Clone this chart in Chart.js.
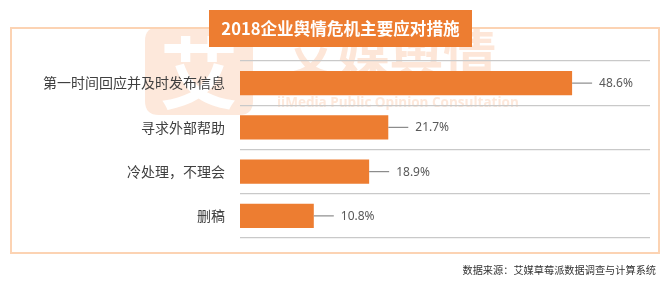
<!DOCTYPE html>
<html>
<head>
<meta charset="utf-8">
<script src="https://cdn.jsdelivr.net/npm/chart.js@4.4.1/dist/chart.umd.min.js"></script>
<style>
html,body{margin:0;padding:0;background:#fff;}
#wrap{position:relative;width:663px;height:282px;}
canvas{display:block;}
</style>
</head>
<body>
<div id="wrap"><canvas id="c" width="663" height="282"></canvas></div>
<script>
const titleText = "2018企业舆情危机主要应对措施";
const sourceText = "数据来源：艾媒草莓派数据调查与计算系统";
const categories = ["第一时间回应并及时发布信息", "寻求外部帮助", "冷处理，不理会", "删稿"];
const values = [48.6, 21.7, 18.9, 10.8];
const valueLabels = ["48.6%", "21.7%", "18.9%", "10.8%"];

const CJK = '"Noto Sans CJK SC", "Noto Sans", sans-serif';

const decor = {
  id: 'decor',
  beforeDraw(chart) {
    const ctx = chart.ctx;
    ctx.save();
    ctx.fillStyle = '#fff';
    ctx.fillRect(0, 0, chart.width, chart.height);
    // watermark logo box
    ctx.fillStyle = '#fde8db';
    const bx = 145, by = 27, bw = 108, bh = 88, r = 14;
    ctx.beginPath();
    ctx.moveTo(bx + r, by);
    ctx.lineTo(bx + bw - r, by);
    ctx.quadraticCurveTo(bx + bw, by, bx + bw, by + r);
    ctx.lineTo(bx + bw, by + bh - r);
    ctx.quadraticCurveTo(bx + bw, by + bh, bx + bw - r, by + bh);
    ctx.lineTo(bx + r, by + bh);
    ctx.quadraticCurveTo(bx, by + bh, bx, by + bh - r);
    ctx.lineTo(bx, by + r);
    ctx.quadraticCurveTo(bx, by, bx + r, by);
    ctx.fill();
    ctx.fillStyle = '#ffffff';
    ctx.font = 'bold 78px ' + CJK;
    ctx.textAlign = 'center';
    ctx.textBaseline = 'middle';
    ctx.fillText('艾', bx + bw / 2, by + bh / 2 + 2);
    ctx.fillStyle = '#fde6d8';
    ctx.font = 'bold 53px ' + CJK;
    ctx.textAlign = 'left';
    ctx.fillText('艾媒舆情', 284, 54);
    ctx.font = 'bold 13.5px "Open Sans", "Noto Sans", sans-serif';
    ctx.fillStyle = '#fde8db';
    ctx.fillText('iiMedia Public Opinion Consultation', 277, 103);
    // frame
    ctx.strokeStyle = '#fcd3b3';
    ctx.lineWidth = 2;
    ctx.strokeRect(11, 28, 648, 225);
    // title box
    ctx.fillStyle = '#ed7d31';
    ctx.fillRect(209, 10, 263, 37);
    ctx.fillStyle = '#ffffff';
    ctx.font = 'bold 16.6px ' + CJK;
    ctx.textAlign = 'center';
    ctx.textBaseline = 'middle';
    ctx.fillText(titleText, 340.5, 29);
    // source
    ctx.fillStyle = '#333333';
    ctx.font = '10.2px ' + CJK;
    ctx.textAlign = 'right';
    ctx.fillText(sourceText, 656, 270);
    ctx.restore();
  },
  afterDatasetsDraw(chart) {
    const ctx = chart.ctx;
    const meta = chart.getDatasetMeta(0);
    ctx.save();
    meta.data.forEach((bar, i) => {
      const x = bar.x, y = bar.y;
      ctx.strokeStyle = '#8c8c8c';
      ctx.lineWidth = 1.2;
      ctx.beginPath();
      ctx.moveTo(x, y);
      ctx.lineTo(x + 20, y);
      ctx.stroke();
      ctx.fillStyle = '#595959';
      ctx.font = '12px "Noto Sans", sans-serif';
      ctx.textAlign = 'left';
      ctx.textBaseline = 'middle';
      ctx.fillText(valueLabels[i], x + 27, y + 0.5);
    });
    ctx.restore();
  }
};

new Chart(document.getElementById('c'), {
  type: 'bar',
  data: {
    labels: categories,
    datasets: [{
      data: values,
      backgroundColor: '#ed7d31',
      borderWidth: 0,
      barPercentage: 0.55,
      categoryPercentage: 1.0
    }]
  },
  options: {
    indexAxis: 'y',
    responsive: false,
    animation: false,
    devicePixelRatio: 1,
    layout: { padding: { left: 0, right: 13, top: 61, bottom: 44 } },
    plugins: { legend: { display: false }, tooltip: { enabled: false } },
    scales: {
      x: { display: false, min: 0, max: 60 },
      y: {
        afterFit(scale) { scale.width = 240; },
        border: { display: false },
        grid: { color: '#c9c9c9', lineWidth: 1.2, offset: true, drawTicks: false },
        ticks: { color: '#404040', padding: 15, font: { size: 14, family: CJK } }
      }
    }
  },
  plugins: [decor]
});
</script>
</body>
</html>
